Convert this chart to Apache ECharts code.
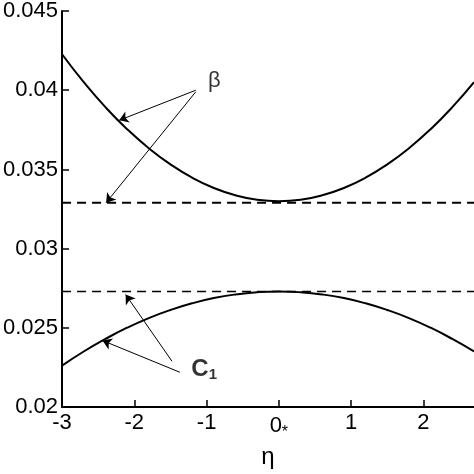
<!DOCTYPE html><html><head><script src="https://cdn.jsdelivr.net/npm/echarts@6/dist/echarts.min.js"></script></head><body style="margin:0"><div id="c" style="width:474px;height:474px"></div><script>
const etaVals=[-3,-2.7,-2.4,-2.1,-1.8,-1.5,-1.2,-0.9,-0.6,-0.3,0,0.3,0.6,0.9,1.2,1.5,1.8,2.1,2.4,2.7];
const betaVals=[0.04227,0.04051,0.03893,0.03754,0.03634,0.03532,0.03448,0.03383,0.03337,0.03309,0.033,0.03309,0.03337,0.03383,0.03448,0.03532,0.03634,0.03754,0.03893,0.04051];
const c1Vals=[0.02262,0.02351,0.02430,0.02501,0.02562,0.02613,0.02655,0.02688,0.02711,0.02725,0.0273,0.02725,0.02711,0.02688,0.02655,0.02613,0.02562,0.02501,0.02430,0.02351];
const betaDash=0.0329, c1Dash=0.0273;
const arrows=[[[-1.15,0.0400],[-2.21,0.0381]],[[-1.15,0.0399],[-2.39,0.0329]],[[-1.37,0.0222],[-2.44,0.0242]],[[-1.48,0.0229],[-2.12,0.0271]]];
const ch=echarts.init(document.getElementById('c'));
const ax={color:'#000',fontSize:22,fontFamily:'Liberation Sans'};
ch.setOption({animation:false,
grid:{left:46,right:0,top:5,bottom:54},
xAxis:{type:'value',min:-3,max:2.7,interval:1,splitLine:{show:false},
 axisLine:{onZero:false,lineStyle:{color:'#000',width:2}},axisTick:{inside:true,length:7,lineStyle:{color:'#000',width:1.5}},
 axisLabel:{...ax,margin:5,showMaxLabel:false,formatter:v=>v===0?'0{s|*}':String(v),rich:{s:{fontSize:16,verticalAlign:'bottom',padding:[12,0,0,0],fontFamily:'Liberation Sans'}}},
 name:'η',nameLocation:'middle',nameGap:34,nameTextStyle:{...ax,fontSize:24}},
yAxis:{type:'value',min:0.02,max:0.045,interval:0.005,splitLine:{show:false},
 axisLine:{onZero:false,lineStyle:{color:'#000',width:2}},axisTick:{inside:true,length:7,lineStyle:{color:'#000',width:1.5}},
 axisLabel:{...ax,margin:4,formatter:v=>String(+v.toFixed(3))}},
series:[
 {type:'line',data:etaVals.map((x,i)=>[x,betaVals[i]]),smooth:true,symbol:'none',lineStyle:{color:'#000',width:2}},
 {type:'line',data:etaVals.map((x,i)=>[x,c1Vals[i]]),smooth:true,symbol:'none',lineStyle:{color:'#000',width:2}},
 {type:'line',data:[[-3,betaDash],[2.7,betaDash]],symbol:'none',lineStyle:{color:'#000',width:2,type:[9,6]}},
 {type:'line',data:[[-3,c1Dash],[2.7,c1Dash]],symbol:'none',lineStyle:{color:'#000',width:1.5,type:[9,6]}},
 {type:'lines',coordinateSystem:'cartesian2d',symbol:['none','arrow'],symbolSize:9,lineStyle:{color:'#000',width:1,opacity:1},data:arrows.map(c=>({coords:c}))},
 {type:'scatter',symbolSize:0,data:[[-1.05,0.0406],[-1.28,0.0224]],
  label:{show:true,position:'right',color:'#000',fontFamily:'Liberation Sans',formatter:p=>p.dataIndex===0?'{b|β}':'{c|C}{s|1}',
  rich:{b:{fontSize:22},c:{fontSize:24,fontWeight:'bold'},s:{fontSize:15,fontWeight:'bold',padding:[12,0,0,0]}}}}
]});
</script></body></html>
